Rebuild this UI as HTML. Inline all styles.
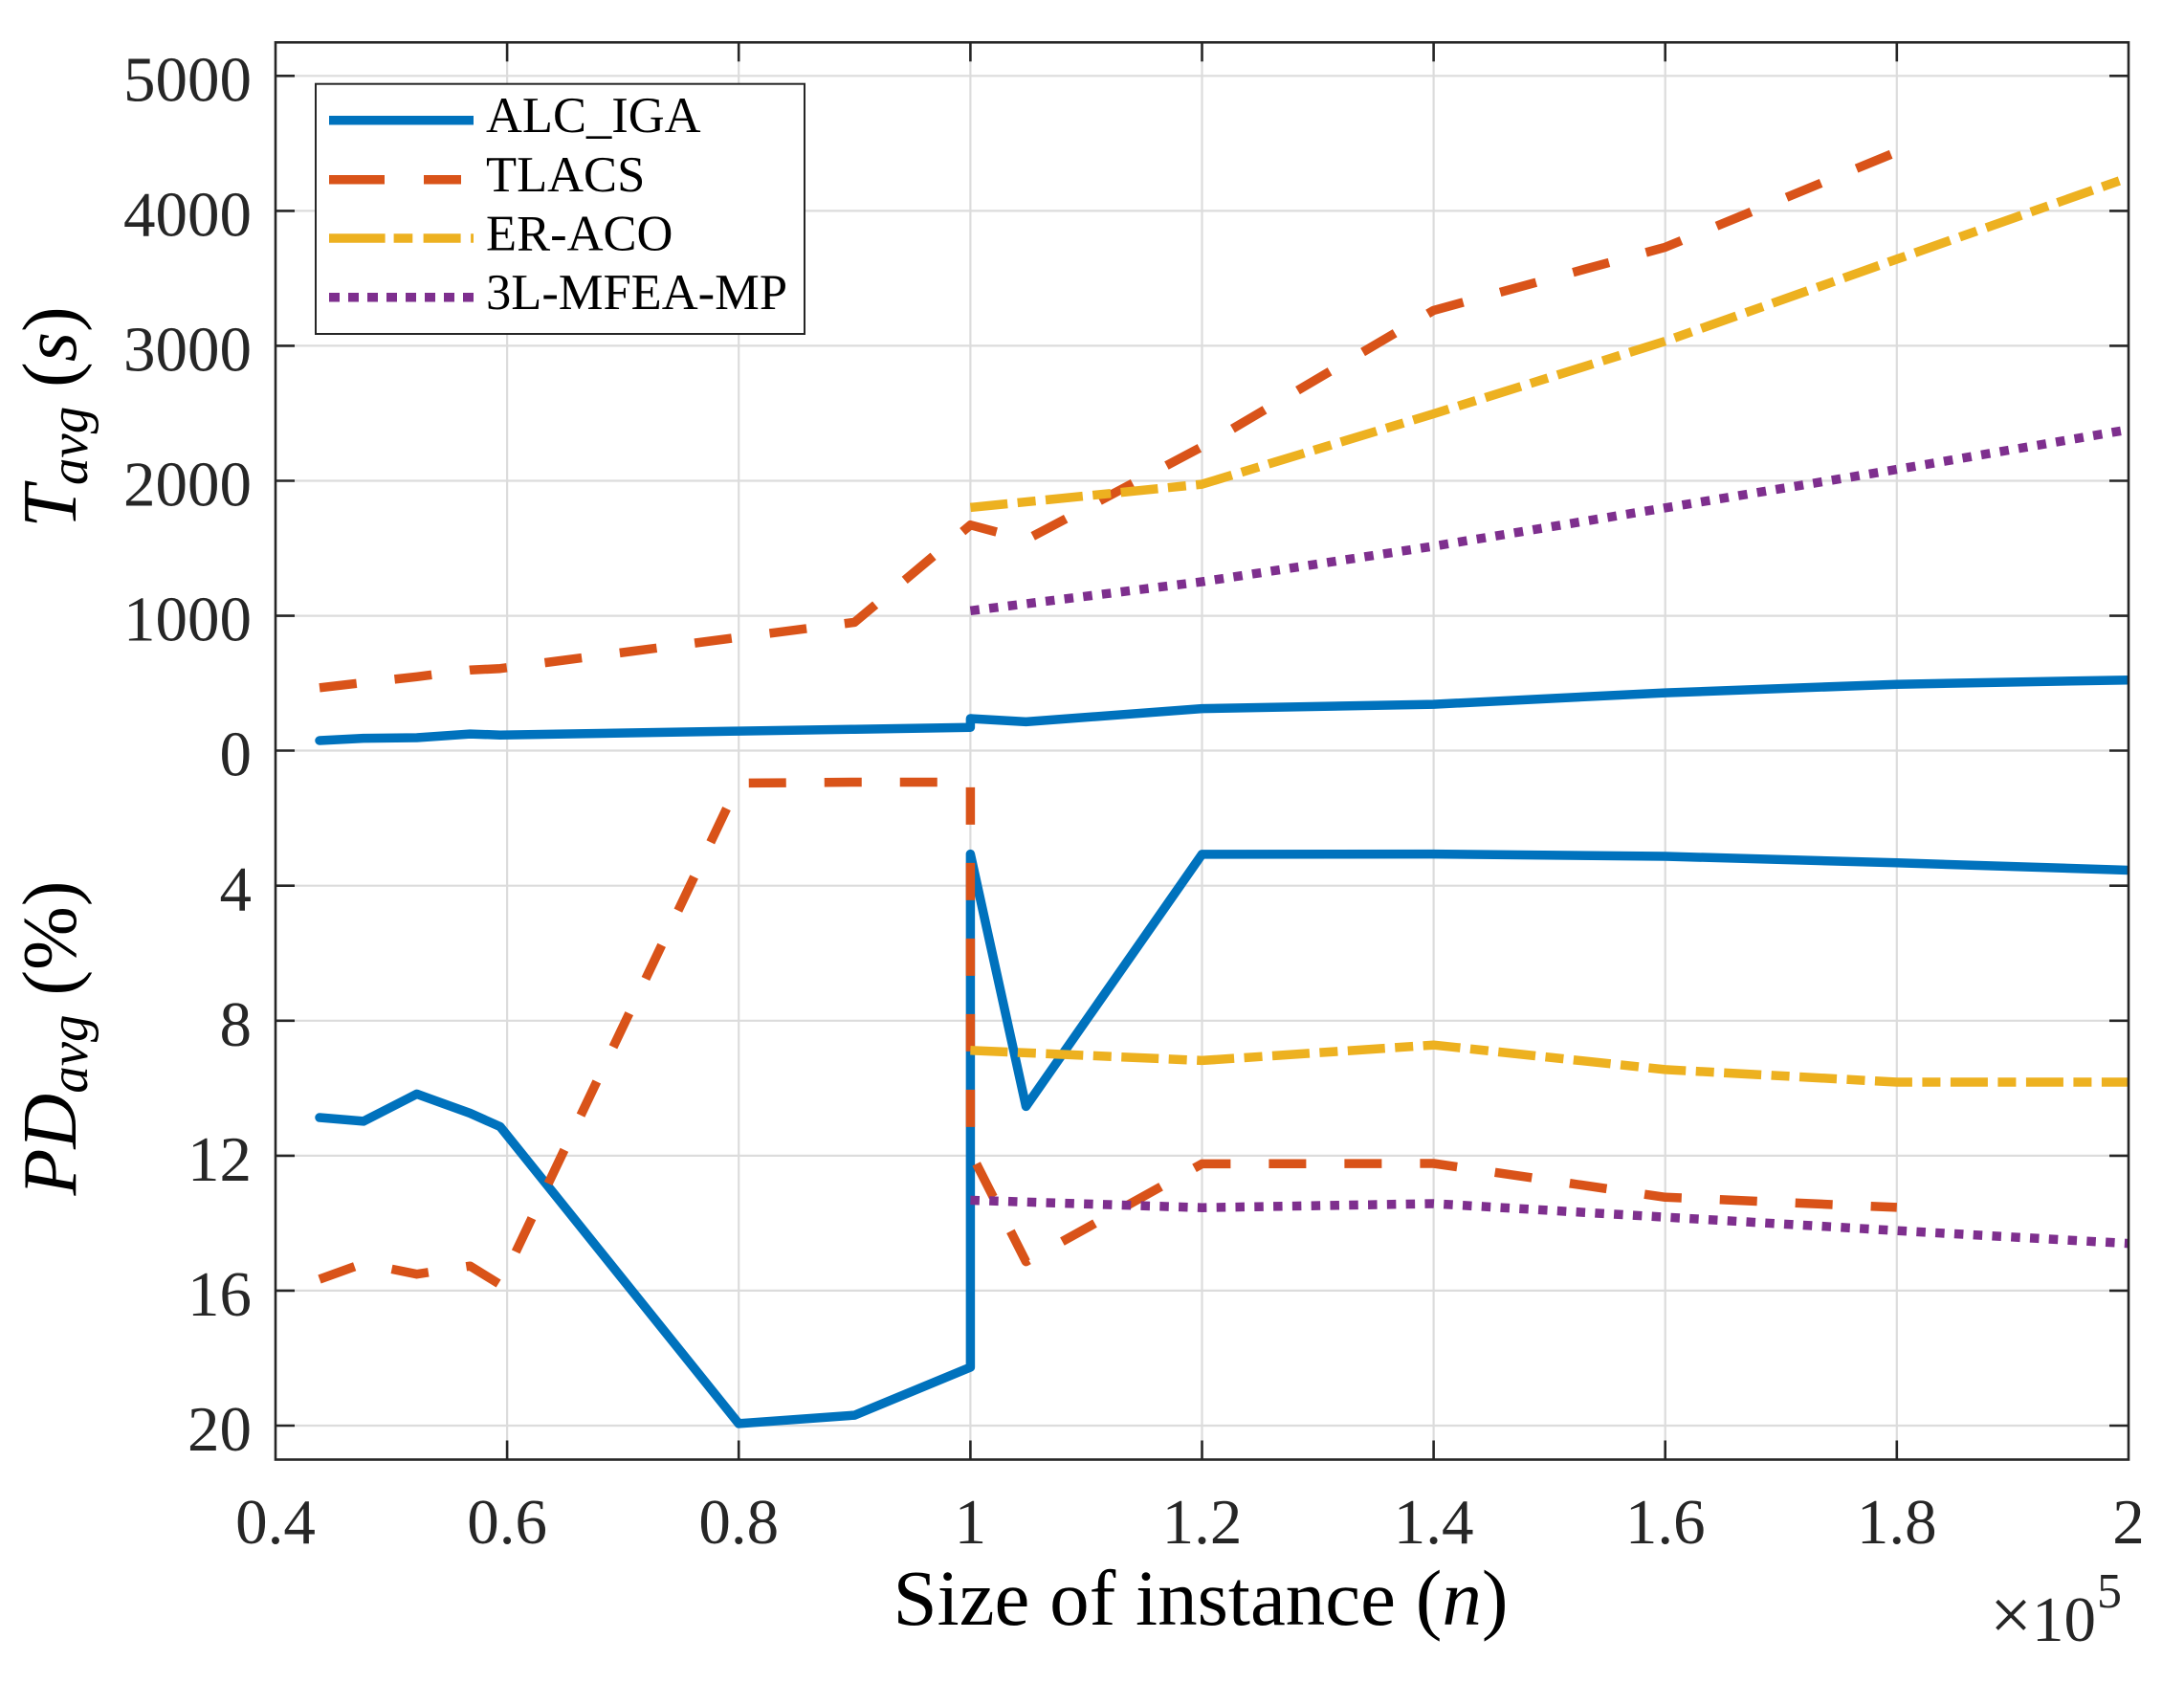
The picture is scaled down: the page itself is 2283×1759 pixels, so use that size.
<!DOCTYPE html>
<html>
<head>
<meta charset="utf-8">
<style>
html,body{margin:0;padding:0;background:#fff;}
svg{display:block;}
text{font-family:"Liberation Serif","DejaVu Serif",serif;}
</style>
</head>
<body>
<svg width="2283" height="1759" viewBox="0 0 2283 1759" xmlns="http://www.w3.org/2000/svg">
<defs>
<clipPath id="ax"><rect x="288" y="44.3" width="1937" height="1481.2"/></clipPath>
</defs>
<rect x="0" y="0" width="2283" height="1759" fill="#fff"/>

<!-- grid -->
<g stroke="#dcdcdc" stroke-width="2.2" fill="none">
<line x1="530.1" y1="44.3" x2="530.1" y2="1525.5"/>
<line x1="772.2" y1="44.3" x2="772.2" y2="1525.5"/>
<line x1="1014.4" y1="44.3" x2="1014.4" y2="1525.5"/>
<line x1="1256.5" y1="44.3" x2="1256.5" y2="1525.5"/>
<line x1="1498.6" y1="44.3" x2="1498.6" y2="1525.5"/>
<line x1="1740.7" y1="44.3" x2="1740.7" y2="1525.5"/>
<line x1="1982.8" y1="44.3" x2="1982.8" y2="1525.5"/>
<line x1="288" y1="79.3" x2="2225" y2="79.3"/>
<line x1="288" y1="220.4" x2="2225" y2="220.4"/>
<line x1="288" y1="361.4" x2="2225" y2="361.4"/>
<line x1="288" y1="502.5" x2="2225" y2="502.5"/>
<line x1="288" y1="643.6" x2="2225" y2="643.6"/>
<line x1="288" y1="784.5" x2="2225" y2="784.5"/>
<line x1="288" y1="925.7" x2="2225" y2="925.7"/>
<line x1="288" y1="1066.8" x2="2225" y2="1066.8"/>
<line x1="288" y1="1207.9" x2="2225" y2="1207.9"/>
<line x1="288" y1="1348.9" x2="2225" y2="1348.9"/>
<line x1="288" y1="1490.0" x2="2225" y2="1490.0"/>
</g>

<!-- series -->
<g clip-path="url(#ax)" fill="none" stroke-width="9.5">
<!-- ALC_IGA -->
<polyline stroke="#0072BD" stroke-linejoin="round" stroke-linecap="round" points="334.0,774.0 380.0,771.6 435.7,771.0 491.4,767.1 522.9,768.2 772.2,764.1 893.3,762.2 1014.4,760.2 1014.4,751.0 1072.5,754.4 1256.5,740.6 1498.6,736.1 1740.7,724.1 1982.8,715.2 2225,710.7"/>
<polyline stroke="#0072BD" stroke-linejoin="round" stroke-linecap="round" points="334.0,1168.0 380.0,1171.9 435.7,1143.4 491.4,1163.5 522.9,1177.6 772.2,1487.9 893.3,1479.1 1014.4,1429.0 1014.4,892.6 1072.5,1156.4 1256.5,892.9 1498.6,892.6 1740.7,895.0 1982.8,901.8 2225,909.5"/>
<!-- TLACS -->
<polyline stroke="#D95319" stroke-dasharray="39 40" stroke-linejoin="round" points="334.0,718.8 380.0,713.5 435.7,707.3 491.4,700.3 522.9,698.7 772.2,666.1 893.3,650.4 1014.4,548.7 1072.5,564.2 1256.5,466.9 1498.6,324.4 1740.7,258.4 1982.8,158.8"/>
<polyline stroke="#D95319" stroke-dasharray="39 40" stroke-linejoin="round" points="334.0,1337.0 380.0,1320.4 435.7,1331.7 491.4,1323.2 522.9,1342.6 772.2,818.5 893.3,817.5 1014.4,817.5 1014.4,1204.0 1072.5,1318.6 1256.5,1216.4 1498.6,1216.0 1740.7,1251.3 1982.8,1261.9"/>
<!-- ER-ACO -->
<polyline stroke="#EDB120" stroke-dasharray="39 10.5 19 10.5" stroke-linejoin="round" points="1014.4,530.4 1256.5,506.1 1498.6,432.5 1740.7,356.6 1982.8,270.9 2225,185.6"/>
<polyline stroke="#EDB120" stroke-dasharray="39 10.5 19 10.5" stroke-linejoin="round" points="1014.4,1097.8 1256.5,1108.4 1498.6,1092.2 1740.7,1117.9 1982.8,1131.0 2225,1131.0"/>
<!-- 3L-MFEA-MP -->
<polyline stroke="#7E2F8E" stroke-dasharray="9.5 10.3" stroke-linejoin="round" points="1014.4,638.3 1256.5,608.0 1498.6,570.9 1740.7,530.8 1982.8,490.6 2225,449.0"/>
<polyline stroke="#7E2F8E" stroke-dasharray="9.5 10.3" stroke-linejoin="round" points="1014.4,1254.4 1256.5,1262.2 1498.6,1258.0 1740.7,1272.1 1982.8,1286.2 2225,1299.6"/>
</g>

<!-- axes box -->
<rect x="288" y="44.3" width="1937" height="1481.2" fill="none" stroke="#262626" stroke-width="2.6"/>

<!-- ticks -->
<g stroke="#262626" stroke-width="2.6">
<line x1="288" y1="79.3" x2="308" y2="79.3"/>
<line x1="288" y1="220.4" x2="308" y2="220.4"/>
<line x1="288" y1="361.4" x2="308" y2="361.4"/>
<line x1="288" y1="502.5" x2="308" y2="502.5"/>
<line x1="288" y1="643.6" x2="308" y2="643.6"/>
<line x1="288" y1="784.5" x2="308" y2="784.5"/>
<line x1="288" y1="925.7" x2="308" y2="925.7"/>
<line x1="288" y1="1066.8" x2="308" y2="1066.8"/>
<line x1="288" y1="1207.9" x2="308" y2="1207.9"/>
<line x1="288" y1="1348.9" x2="308" y2="1348.9"/>
<line x1="288" y1="1490.0" x2="308" y2="1490.0"/>
<line x1="2205" y1="79.3" x2="2225" y2="79.3"/>
<line x1="2205" y1="220.4" x2="2225" y2="220.4"/>
<line x1="2205" y1="361.4" x2="2225" y2="361.4"/>
<line x1="2205" y1="502.5" x2="2225" y2="502.5"/>
<line x1="2205" y1="643.6" x2="2225" y2="643.6"/>
<line x1="2205" y1="784.5" x2="2225" y2="784.5"/>
<line x1="2205" y1="925.7" x2="2225" y2="925.7"/>
<line x1="2205" y1="1066.8" x2="2225" y2="1066.8"/>
<line x1="2205" y1="1207.9" x2="2225" y2="1207.9"/>
<line x1="2205" y1="1348.9" x2="2225" y2="1348.9"/>
<line x1="2205" y1="1490.0" x2="2225" y2="1490.0"/>
<line x1="530.1" y1="1525.5" x2="530.1" y2="1505.5"/>
<line x1="772.2" y1="1525.5" x2="772.2" y2="1505.5"/>
<line x1="1014.4" y1="1525.5" x2="1014.4" y2="1505.5"/>
<line x1="1256.5" y1="1525.5" x2="1256.5" y2="1505.5"/>
<line x1="1498.6" y1="1525.5" x2="1498.6" y2="1505.5"/>
<line x1="1740.7" y1="1525.5" x2="1740.7" y2="1505.5"/>
<line x1="1982.8" y1="1525.5" x2="1982.8" y2="1505.5"/>
<line x1="530.1" y1="44.3" x2="530.1" y2="64.3"/>
<line x1="772.2" y1="44.3" x2="772.2" y2="64.3"/>
<line x1="1014.4" y1="44.3" x2="1014.4" y2="64.3"/>
<line x1="1256.5" y1="44.3" x2="1256.5" y2="64.3"/>
<line x1="1498.6" y1="44.3" x2="1498.6" y2="64.3"/>
<line x1="1740.7" y1="44.3" x2="1740.7" y2="64.3"/>
<line x1="1982.8" y1="44.3" x2="1982.8" y2="64.3"/>
</g>

<!-- y tick labels -->
<g font-size="67" fill="#262626" text-anchor="end">
<text x="263" y="105.3">5000</text>
<text x="263" y="246.4">4000</text>
<text x="263" y="387.4">3000</text>
<text x="263" y="528.5">2000</text>
<text x="263" y="669.6">1000</text>
<text x="263" y="810.5">0</text>
<text x="263" y="951.7">4</text>
<text x="263" y="1092.8">8</text>
<text x="263" y="1233.9">12</text>
<text x="263" y="1374.9">16</text>
<text x="263" y="1516.0">20</text>
</g>

<!-- x tick labels -->
<g font-size="67" fill="#262626" text-anchor="middle">
<text x="288" y="1613">0.4</text>
<text x="530.1" y="1613">0.6</text>
<text x="772.2" y="1613">0.8</text>
<text x="1014.4" y="1613">1</text>
<text x="1256.5" y="1613">1.2</text>
<text x="1498.6" y="1613">1.4</text>
<text x="1740.7" y="1613">1.6</text>
<text x="1982.8" y="1613">1.8</text>
<text x="2225" y="1613">2</text>
</g>

<!-- x10^5 -->
<text x="2080" y="1714" font-size="78" fill="#262626">×</text>
<text x="2124" y="1715" font-size="67" fill="#262626">10</text>
<text x="2192" y="1680" font-size="52" fill="#262626">5</text>

<!-- x label -->
<text x="1255" y="1698" font-size="83" fill="#000" text-anchor="middle">Size of instance (<tspan font-style="italic">n</tspan>)</text>

<!-- y labels -->
<text transform="translate(79,436) rotate(-90)" font-size="80" fill="#000" text-anchor="middle"><tspan font-style="italic">T</tspan><tspan font-style="italic" font-size="57" dy="12">avg</tspan><tspan dy="-12"> (</tspan><tspan font-style="italic">s</tspan>)</text>
<text transform="translate(79,1085) rotate(-90)" font-size="80" fill="#000" text-anchor="middle"><tspan font-style="italic">PD</tspan><tspan font-style="italic" font-size="57" dy="12">avg</tspan><tspan dy="-12"> (%)</tspan></text>

<!-- legend -->
<rect x="330" y="87.7" width="511" height="261.3" fill="#fff" stroke="#262626" stroke-width="2"/>
<g fill="none" stroke-width="9.5">
<line x1="344" y1="125.7" x2="495" y2="125.7" stroke="#0072BD"/>
<line x1="344" y1="187.7" x2="495" y2="187.7" stroke="#D95319" stroke-dasharray="58 41 39 100"/>
<line x1="344" y1="249" x2="495" y2="249" stroke="#EDB120" stroke-dasharray="58.6 9 19.7 11.3 39 10.5 19 10"/>
<line x1="344" y1="310.7" x2="495" y2="310.7" stroke="#7E2F8E" stroke-dasharray="11 9"/>
</g>
<g font-size="52.5" fill="#000">
<text x="508" y="138">ALC_IGA</text>
<text x="508" y="200">TLACS</text>
<text x="508" y="261.5">ER-ACO</text>
<text x="508" y="323">3L-MFEA-MP</text>
</g>
</svg>
</body>
</html>
